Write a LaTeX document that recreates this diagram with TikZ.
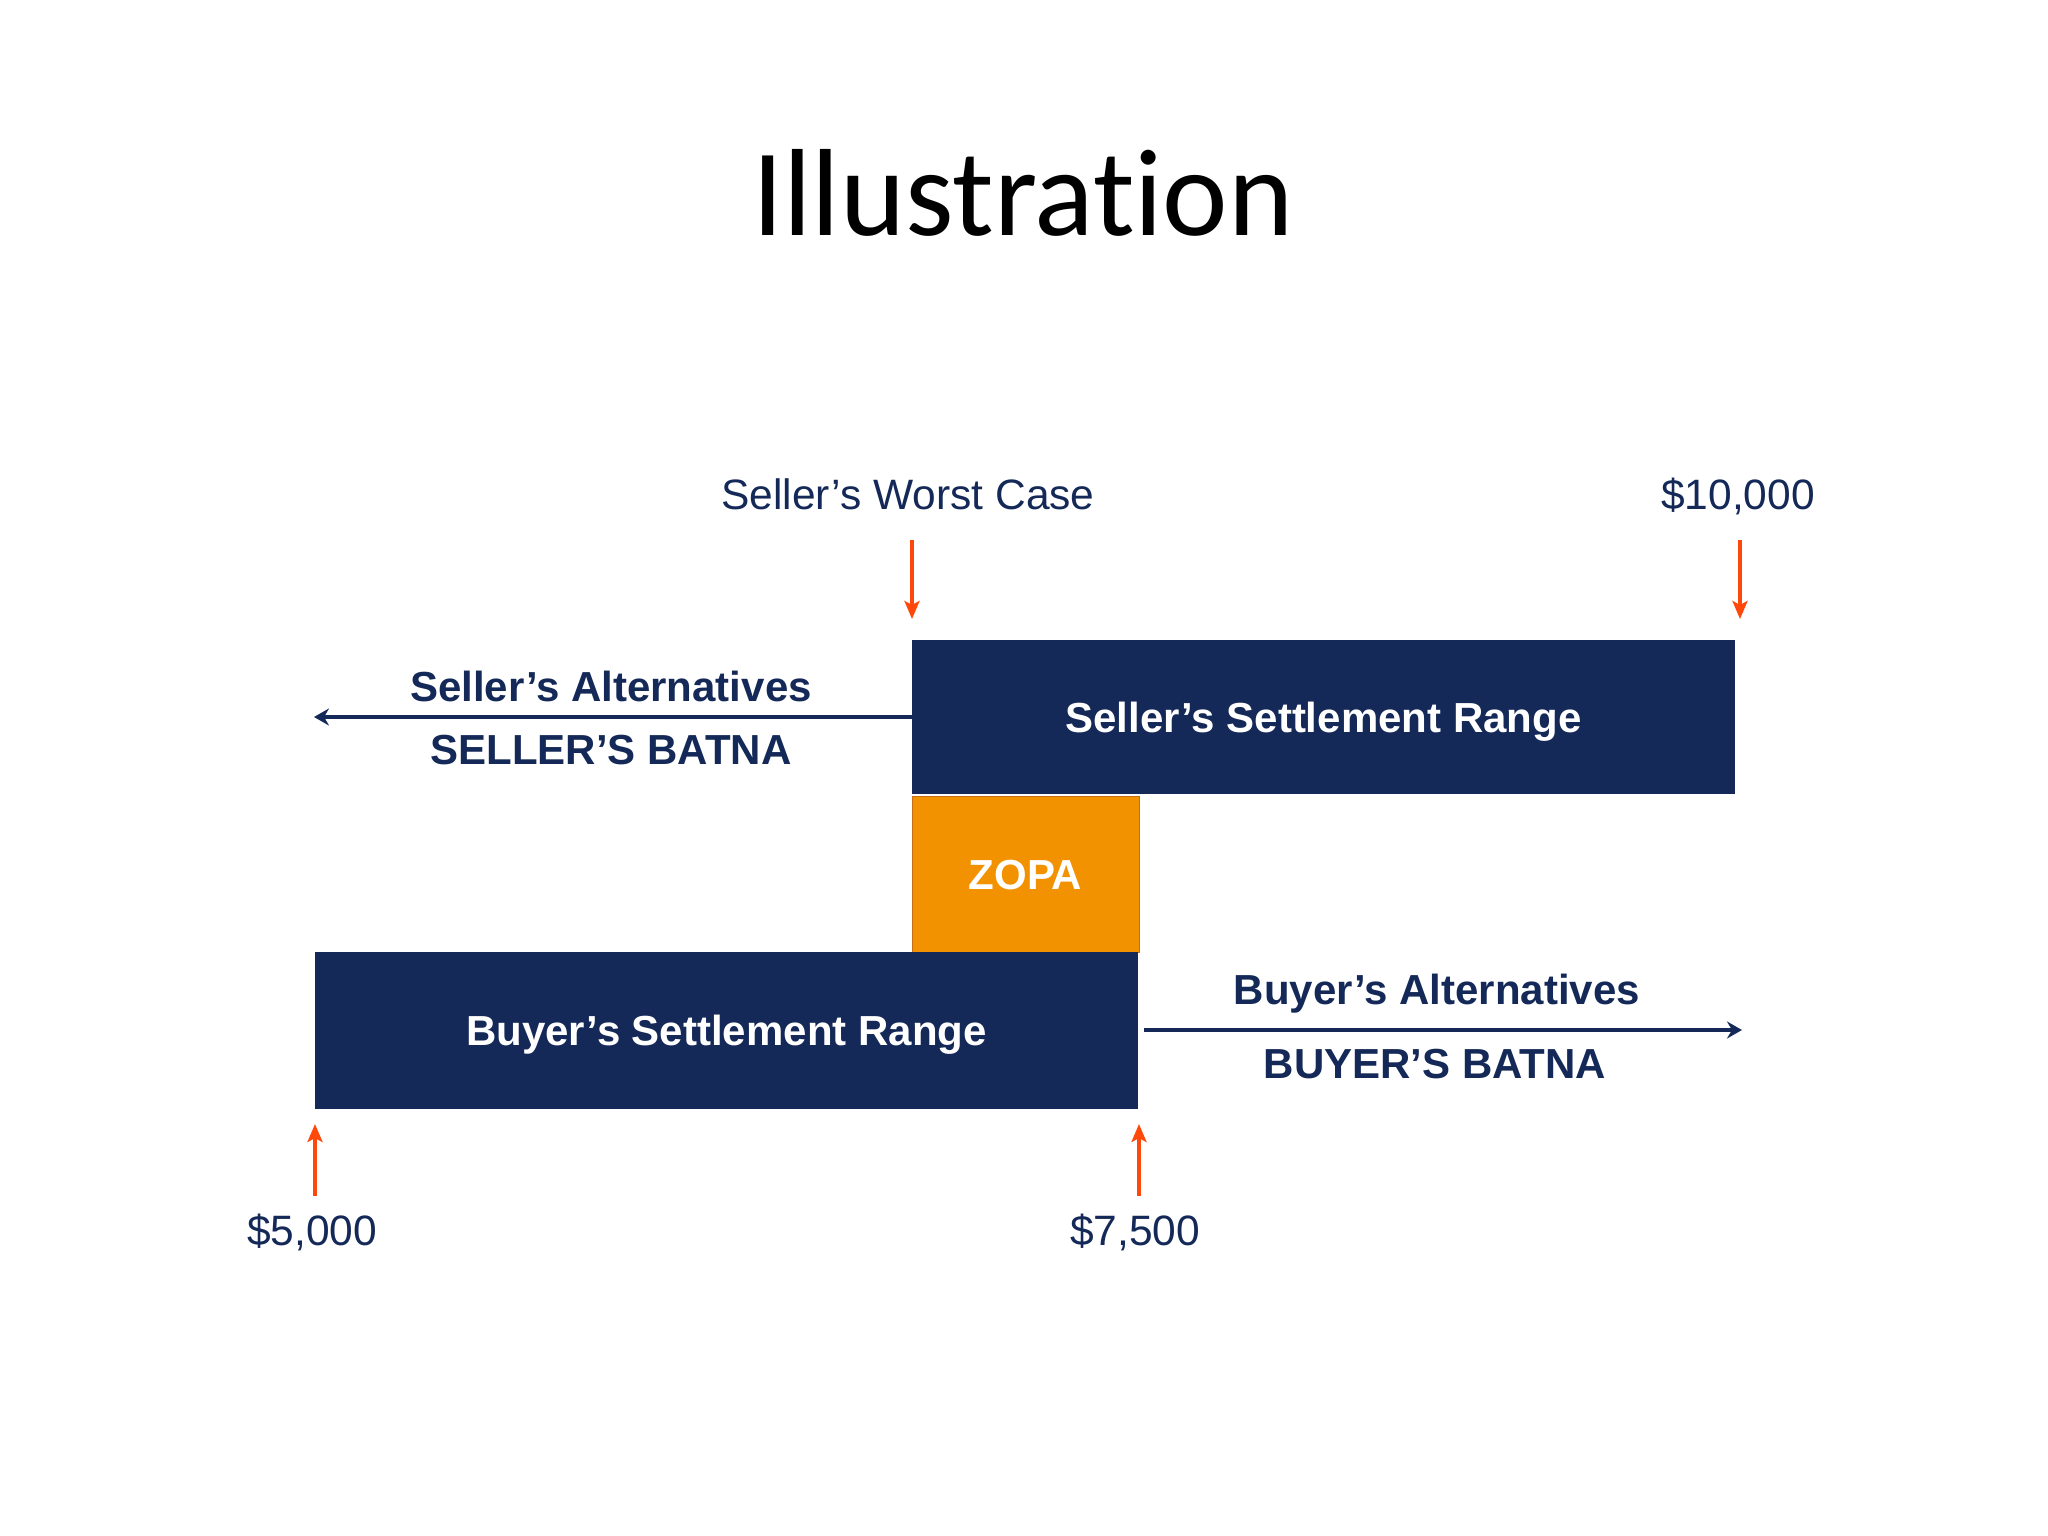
\documentclass[tikz,border=0pt]{standalone}
\usepackage{fontspec}
\setmainfont{Liberation Sans}
\newfontfamily\titlefont[Ligatures=NoCommon]{Carlito}
\usetikzlibrary{arrows.meta}

\definecolor{navyblue}{RGB}{20,41,88}
\definecolor{zopaorange}{RGB}{243,146,0}
\definecolor{zopaedge}{RGB}{200,110,20}
\definecolor{markred}{RGB}{255,72,10}

\begin{document}
\begin{tikzpicture}[x=1pt,y=-1pt,
	rangebox/.style={rectangle,fill=navyblue,inner sep=0pt,text=white,text height=30pt,text depth=0pt,font=\fontsize{42}{50}\selectfont\bfseries},
	label/.style={text=navyblue,inner sep=0pt,text height=30pt,text depth=0pt,font=\fontsize{42.5}{50}\selectfont},
	boldlabel/.style={label,font=\fontsize{42}{50}\selectfont\bfseries},
	navyarrow/.style={draw=navyblue,line width=4pt,-{Stealth[length=15pt,width=17pt,inset=5pt]}},
	markarrow/.style={draw=markred,line width=4pt,-{Stealth[length=18pt,width=15pt,inset=4pt]}}]
	\useasboundingbox[fill=white] (0,0) rectangle (2048,1536);
	
	% draw title
	\node (title) at (1023,193) {\titlefont\fontsize{124}{140}\selectfont Illustration};
	
	% draw settlement ranges and ZOPA
	\node[rangebox,minimum width=823pt,minimum height=154pt] (sellerbox) at (1323.5,717) {Seller’s Settlement Range};
	\node[rectangle,fill=zopaorange,draw=zopaedge,line width=1pt,inner sep=0pt,minimum width=227pt,minimum height=156pt,text=white,text height=30pt,text depth=0pt,font=\fontsize{42}{50}\selectfont\bfseries] (zopa) at (1025.5,874) {ZOPA};
	\node[rangebox,minimum width=823pt,minimum height=157pt] (buyerbox) at (726.5,1030.5) {Buyer’s Settlement Range};
	
	% draw labels above and below
	\node[label] (worstcase) at (908,494) {Seller’s Worst Case};
	\node[label] (tenk) at (1738,494) {\$10,000};
	\node[label] (fivek) at (312,1230) {\$5,000};
	\node[label] (sevenk) at (1135,1230) {\$7,500};
	
	% draw alternatives and BATNA labels
	\node[boldlabel] (selleralt) at (611,686) {Seller’s Alternatives};
	\node[boldlabel] (sellerbatna) at (611,749) {SELLER’S BATNA};
	\node[boldlabel] (buyeralt) at (1437,989) {Buyer’s Alternatives};
	\node[boldlabel] (buyerbatna) at (1435,1063) {BUYER’S BATNA};
	
	% draw BATNA arrows
	\coordinate (sellerend) at (314,717);
	\coordinate (buyerstart) at (1144,1030);
	\coordinate (buyerend) at (1742,1030);
	\draw[navyarrow] (sellerbox.west) -- (sellerend);
	\draw[navyarrow] (buyerstart) -- (buyerend);
	
	% draw price markers
	\coordinate (worsttop) at (912,540);
	\coordinate (worsttip) at (912,619);
	\coordinate (tentop) at (1740,540);
	\coordinate (tentip) at (1740,619);
	\coordinate (fivebot) at (315,1196);
	\coordinate (fivetip) at (315,1124);
	\coordinate (sevenbot) at (1139,1196);
	\coordinate (seventip) at (1139,1124);
	\draw[markarrow] (worsttop) -- (worsttip);
	\draw[markarrow] (tentop) -- (tentip);
	\draw[markarrow] (fivebot) -- (fivetip);
	\draw[markarrow] (sevenbot) -- (seventip);
\end{tikzpicture}
\end{document}
